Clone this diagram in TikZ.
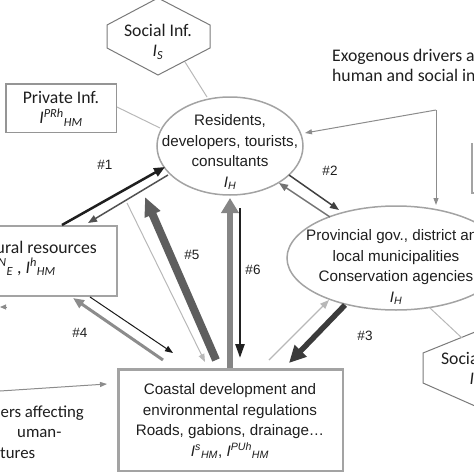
\documentclass[tikz,border=0pt]{standalone}
\usepackage{fontspec}
\setmainfont{Liberation Sans}
\newfontfamily\califont{Carlito}
\usetikzlibrary{arrows.meta,shapes.geometric}
\definecolor{txt}{HTML}{1E1E1E}
\definecolor{lite}{HTML}{B8B8B8}
\definecolor{edge}{HTML}{A3A3A3}
\definecolor{hexc}{HTML}{7A7A7A}
\newcommand{\Isub}[1]{\textit{I}\textsubscript{\textit{#1}}}
\newcommand{\Isupsub}[2]{\textit{I}\textsuperscript{\textit{#1}}\textsubscript{\textit{#2}}}
\begin{document}
\begin{tikzpicture}[x=1pt,y=-1pt,
  ar/.style={font=\fontsize{15.2}{20.5}\selectfont, text=txt, align=center, inner sep=0pt},
  ca/.style={font=\califont\fontsize{17.7}{20}\selectfont, text=txt, align=center, inner sep=0pt},
  num/.style={font=\fontsize{13.5}{14}\selectfont, text=txt, inner sep=0pt},
  ell/.style={ellipse, draw=edge, line width=1.5pt, inner sep=0pt},
  hexline/.style={draw=hexc, line width=1pt},
  thinline/.style={draw=lite, line width=1pt},
  greyarrow/.style={draw=black!45, line width=1pt, -{Triangle[length=7pt,width=5pt]}}
]
\useasboundingbox (0,0) rectangle (474,474);
\clip (0,0) rectangle (474,474);

% ---------- hexagons ----------
\draw[hexline] (158,-2) -- (210,25) -- (210,48) -- (158,75) -- (107,48) -- (107,25) -- cycle;
\node[ca] (socA) at (158,42) {Social Inf.\\\Isub{S}};
\draw[hexline] (475,332) -- (527,353) -- (527,383) -- (475,406) -- (423,383) -- (423,353) -- cycle;
\node[ca] (socB) at (475,370) {Social Inf.\\\Isub{S}};

% ---------- boxes ----------
\node[draw=hexc!80, line width=1.5pt, minimum width=110.5pt, minimum height=48.5pt, inner sep=0pt] (priv) at (61,108) {};
\node[ca] (privtxt) at (61,109) {Private Inf.\\\Isupsub{PRh}{HM}};

\node[draw=edge, line width=2pt, minimum width=166pt, minimum height=70pt, inner sep=0pt] (nat) at (34,261) {};
\node[ca, anchor=east] (nattxt1) at (97,247) {Natural resources};
\node[ca, anchor=east] (nattxt2) at (56,267) {\Isupsub{N}{E} , \Isupsub{h}{HM}};

\node[draw=edge, line width=2.5pt, minimum width=224.5pt, minimum height=101.5pt, inner sep=0pt] (coast) at (230.5,420) {};
\node[ar] (coasttxt) at (230,421) {Coastal development and\\environmental regulations\\Roads, gabions, drainage\dots\\\Isupsub{s}{HM}, \Isupsub{PUh}{HM}};

\draw[edge, line width=2.5pt] (472,143) -- (472,193) -- (520,193);

% ---------- ellipses ----------
\node[ell, minimum width=146pt, minimum height=98pt] (res) at (230,146) {};
\node[ar] (restxt) at (230,152) {Residents,\\developers, tourists,\\consultants\\\Isub{H}};
\node[ell, minimum width=218pt, minimum height=104pt] (prov) at (396,258) {};
\node[ar] (provtxt) at (396,267) {Provincial gov., district and\\local municipalities\\Conservation agencies\\\Isub{H}};

% ---------- exogenous texts ----------
\node[ca, anchor=west, align=left] (exo) at (332,65) {Exogenous drivers affecting\\human and social infrastructures};
\node[ca, font=\califont\fontsize{16.8}{20}\selectfont, anchor=west] (left1) at (0.5,413) {ers affecting};
\node[ca, font=\califont\fontsize{16.8}{20}\selectfont, anchor=west] (left2) at (17,433) {uman-};
\node[ca, font=\califont\fontsize{16.8}{20}\selectfont, anchor=west] (left3) at (0,453) {tures};

% ---------- coordinates ----------
\coordinate (hexA) at (185,62);
\coordinate (resT) at (207,97);
\coordinate (privR) at (117,107);
\coordinate (resL) at (160,128);
\coordinate (provB) at (430,308);
\coordinate (hexB) at (462,338);
\coordinate (exoC) at (436,110);
\coordinate (resR) at (305,133);
\coordinate (provT) at (436,205);
\coordinate (leftS) at (0,391);
\coordinate (coastL) at (107,384);
\coordinate (stubS) at (7,307);
\coordinate (stubE) at (0,307);

\draw[thinline] (hexA) -- (resT);
\draw[thinline] (privR) -- (resL);
\draw[thinline] (provB) -- (hexB);
\draw[greyarrow] (exoC) -- (resR);
\draw[greyarrow] (exoC) -- (provT);
\draw[greyarrow] (leftS) -- (coastL);
\draw[draw=black!45, line width=1pt, -{Triangle[length=6pt,width=5pt]}] (stubS) -- (stubE);

% ---------- numbered flows ----------
\coordinate (a1s) at (62,225);   \coordinate (a1e) at (165,167);
\coordinate (b1s) at (168,175);  \coordinate (b1e) at (88,223);
\coordinate (a2s) at (289,175);  \coordinate (a2e) at (339,210);
\coordinate (b2s) at (330,217);  \coordinate (b2e) at (279,183);
\coordinate (a3s) at (345,305);  \coordinate (a3e) at (289,363);
\coordinate (b3s) at (269,360);  \coordinate (b3e) at (329,300);
\coordinate (a4s) at (90,297);   \coordinate (a4e) at (173,353);
\coordinate (b4s) at (163,360);  \coordinate (b4e) at (73,298);
\coordinate (a5s) at (216,360);  \coordinate (a5e) at (145,197);
\coordinate (b5s) at (127,203);  \coordinate (b5e) at (205,362);
\coordinate (a6s) at (230,368);  \coordinate (a6e) at (230,198);
\coordinate (b6s) at (240,208);  \coordinate (b6e) at (240,358);

\draw[draw=black!88, line width=2.5pt, -{Triangle[length=11pt,width=9pt]}] (a1s) -- (a1e);
\draw[draw=black!68, line width=1.5pt, -{Triangle[length=9pt,width=7pt]}] (b1s) -- (b1e);
\draw[draw=black!75, line width=1.5pt, -{Triangle[length=9pt,width=7pt]}] (a2s) -- (a2e);
\draw[draw=black!55, line width=1.5pt, -{Triangle[length=9pt,width=7pt]}] (b2s) -- (b2e);
\draw[draw=black!77, line width=5.5pt, -{Triangle[length=17pt,width=16pt]}] (a3s) -- (a3e);
\draw[draw=lite, line width=1.2pt, -{Triangle[length=9pt,width=7pt]}] (b3s) -- (b3e);
\draw[draw=black!90, line width=1pt, -{Triangle[length=8pt,width=6pt]}] (a4s) -- (a4e);
\draw[draw=black!45, line width=3pt, -{Triangle[length=11pt,width=9pt]}] (b4s) -- (b4e);
\draw[draw=black!63, line width=8pt, -{Triangle[length=19pt,width=16pt]}] (a5s) -- (a5e);
\draw[draw=lite, line width=1pt, -{Triangle[length=8pt,width=6pt]}] (b5s) -- (b5e);
\draw[draw=black!48, line width=6.5pt, -{Triangle[length=15pt,width=17pt]}] (a6s) -- (a6e);
\draw[draw=black!87, line width=2.5pt, -{Triangle[length=14pt,width=9pt]}] (b6s) -- (b6e);

\node[num] (n1) at (105,165) {\#1};
\node[num] (n2) at (330,171) {\#2};
\node[num] (n3) at (365,336) {\#3};
\node[num] (n4) at (80,333) {\#4};
\node[num] (n5) at (192,255) {\#5};
\node[num] (n6) at (253,270) {\#6};
\end{tikzpicture}
\end{document}
